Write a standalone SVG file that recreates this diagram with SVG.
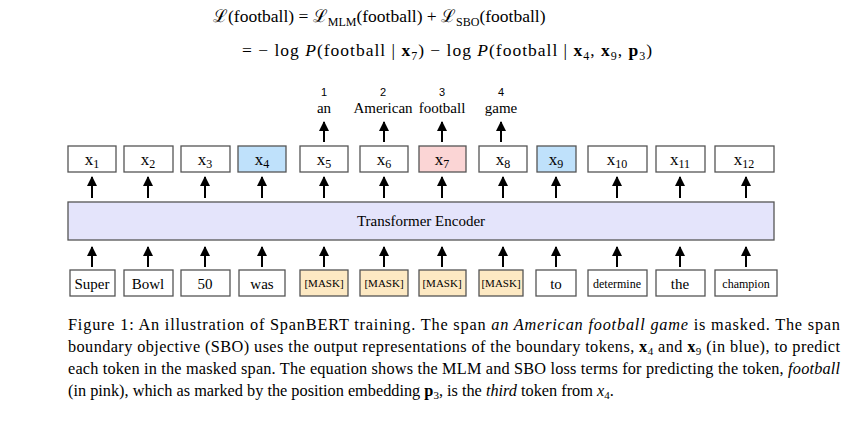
<svg xmlns="http://www.w3.org/2000/svg" width="860" height="428" viewBox="0 0 860 428">
<defs>
<marker id="ah" viewBox="0 0 10 10" refX="9" refY="5" markerWidth="5" markerHeight="5" orient="auto"><path d="M0,0 L10,5 L0,10 z" fill="#000"/></marker>
<style>
text{font-family:"Liberation Serif","DejaVu Serif",serif;fill:#000}
.tb{fill:#fff;stroke:#555;stroke-width:1.3}
.blue{fill:#bfe1fb}
.pink{fill:#fbd5d5}
.mask{fill:#fde9c3}
.t{font-size:15px;text-anchor:middle}
.n{font-size:11px;text-anchor:middle;font-family:"Liberation Sans",sans-serif}
.x{font-size:17px;text-anchor:middle}
.m{font-size:11px}
.a{stroke:#000;stroke-width:2;marker-end:url(#ah)}
.cap{font-size:16.3px}
.eq{font-size:17.5px}
</style>
</defs>
<rect width="860" height="428" fill="#fff"/>
<g id="equation">
<text class="eq" x="213" y="22">ℒ(football) = ℒ<tspan font-size="12" dy="4">MLM</tspan><tspan dy="-4">(football) + ℒ</tspan><tspan font-size="12" dy="4">SBO</tspan><tspan dy="-4">(football)</tspan></text>
<text class="eq" x="242" y="56" textLength="410" lengthAdjust="spacing">= − log <tspan font-style="italic">P</tspan>(football  |  <tspan font-weight="bold">x</tspan><tspan font-size="12" dy="4">7</tspan><tspan dy="-4">) − log </tspan><tspan font-style="italic">P</tspan>(football  |  <tspan font-weight="bold">x</tspan><tspan font-size="12" dy="4">4</tspan><tspan dy="-4">, </tspan><tspan font-weight="bold">x</tspan><tspan font-size="12" dy="4">9</tspan><tspan dy="-4">, </tspan><tspan font-weight="bold">p</tspan><tspan font-size="12" dy="4">3</tspan><tspan dy="-4">)</tspan></text>
</g>
<g id="predictions">
<text class="n" x="324" y="96">1</text>
<text class="n" x="383" y="96">2</text>
<text class="n" x="442" y="96">3</text>
<text class="n" x="501" y="96">4</text>
<text class="t" x="324" y="113">an</text>
<text class="t" x="383" y="113">American</text>
<text class="t" x="442" y="113">football</text>
<text class="t" x="501" y="113">game</text>
</g>
<g id="outputs">
<rect class="tb" x="68" y="146" width="48" height="26"/><text class="x" x="92" y="165">x<tspan font-size="12" dy="3">1</tspan></text>
<rect class="tb" x="124" y="146" width="49" height="26"/><text class="x" x="148" y="165">x<tspan font-size="12" dy="3">2</tspan></text>
<rect class="tb" x="181" y="146" width="49" height="26"/><text class="x" x="205" y="165">x<tspan font-size="12" dy="3">3</tspan></text>
<rect class="tb blue" x="238" y="146" width="48" height="26"/><text class="x" x="262" y="165">x<tspan font-size="12" dy="3">4</tspan></text>
<rect class="tb" x="300" y="146" width="48" height="26"/><text class="x" x="324" y="165">x<tspan font-size="12" dy="3">5</tspan></text>
<rect class="tb" x="360" y="146" width="48" height="26"/><text class="x" x="384" y="165">x<tspan font-size="12" dy="3">6</tspan></text>
<rect class="tb pink" x="419" y="146" width="47" height="26"/><text class="x" x="442" y="165">x<tspan font-size="12" dy="3">7</tspan></text>
<rect class="tb" x="479" y="146" width="48" height="26"/><text class="x" x="503" y="165">x<tspan font-size="12" dy="3">8</tspan></text>
<rect class="tb blue" x="537" y="146" width="39" height="26"/><text class="x" x="556" y="165">x<tspan font-size="12" dy="3">9</tspan></text>
<rect class="tb" x="588" y="146" width="59" height="26"/><text class="x" x="617" y="165">x<tspan font-size="12" dy="3">10</tspan></text>
<rect class="tb" x="656" y="146" width="49" height="26"/><text class="x" x="680" y="165">x<tspan font-size="12" dy="3">11</tspan></text>
<rect class="tb" x="715" y="146" width="59" height="26"/><text class="x" x="744" y="165">x<tspan font-size="12" dy="3">12</tspan></text>
</g>
<g id="encoder">
<rect x="68" y="202" width="706" height="38" fill="#e4e4fb" stroke="#555" stroke-width="1.3"/>
<text class="t" x="421" y="226">Transformer Encoder</text>
</g>
<g id="inputs">
<rect class="tb" x="70" y="270" width="45" height="26"/><text class="t" x="92" y="289">Super</text>
<rect class="tb" x="124" y="270" width="49" height="26"/><text class="t" x="148" y="289">Bowl</text>
<rect class="tb" x="181" y="270" width="49" height="26"/><text class="t" x="205" y="289">50</text>
<rect class="tb" x="239" y="270" width="46" height="26"/><text class="t" x="262" y="289">was</text>
<rect class="tb mask" x="300" y="270" width="48" height="26"/><text class="t m" x="324" y="287">[MASK]</text>
<rect class="tb mask" x="360" y="270" width="48" height="26"/><text class="t m" x="384" y="287">[MASK]</text>
<rect class="tb mask" x="419" y="270" width="47" height="26"/><text class="t m" x="442" y="287">[MASK]</text>
<rect class="tb mask" x="479" y="270" width="44" height="26"/><text class="t m" x="501" y="287">[MASK]</text>
<rect class="tb" x="536" y="270" width="40" height="26"/><text class="t" x="556" y="289">to</text>
<rect class="tb" x="588" y="270" width="59" height="26"/><text class="t" style="font-size:12px" x="617" y="288">determine</text>
<rect class="tb" x="656" y="270" width="49" height="26"/><text class="t" x="680" y="289">the</text>
<rect class="tb" x="715" y="270" width="62" height="26"/><text class="t" style="font-size:12px" x="746" y="288">champion</text>
</g>
<g id="connectors">
<line class="a" x1="92" y1="267" x2="92" y2="247"/><line class="a" x1="148" y1="267" x2="148" y2="247"/><line class="a" x1="205" y1="267" x2="205" y2="247"/><line class="a" x1="262" y1="267" x2="262" y2="247"/><line class="a" x1="324" y1="267" x2="324" y2="247"/><line class="a" x1="384" y1="267" x2="384" y2="247"/><line class="a" x1="442" y1="267" x2="442" y2="247"/><line class="a" x1="503" y1="267" x2="503" y2="247"/><line class="a" x1="556" y1="267" x2="556" y2="247"/><line class="a" x1="617" y1="267" x2="617" y2="247"/><line class="a" x1="680" y1="267" x2="680" y2="247"/><line class="a" x1="746" y1="267" x2="746" y2="247"/>
<line class="a" x1="92" y1="198" x2="92" y2="177"/><line class="a" x1="148" y1="198" x2="148" y2="177"/><line class="a" x1="205" y1="198" x2="205" y2="177"/><line class="a" x1="262" y1="198" x2="262" y2="177"/><line class="a" x1="324" y1="198" x2="324" y2="177"/><line class="a" x1="384" y1="198" x2="384" y2="177"/><line class="a" x1="442" y1="198" x2="442" y2="177"/><line class="a" x1="503" y1="198" x2="503" y2="177"/><line class="a" x1="556" y1="198" x2="556" y2="177"/><line class="a" x1="617" y1="198" x2="617" y2="177"/><line class="a" x1="680" y1="198" x2="680" y2="177"/><line class="a" x1="746" y1="198" x2="746" y2="177"/>
<line class="a" x1="324" y1="142" x2="324" y2="122"/><line class="a" x1="384" y1="142" x2="384" y2="122"/><line class="a" x1="442" y1="142" x2="442" y2="122"/><line class="a" x1="501" y1="142" x2="501" y2="122"/>
</g>
<g id="caption">
<text class="cap" x="68" y="330" textLength="772" lengthAdjust="spacing">Figure 1:  An illustration of SpanBERT training.  The span <tspan font-style="italic">an American football game</tspan> is masked.  The span</text>
<text class="cap" x="68" y="352" textLength="772" lengthAdjust="spacing">boundary objective (SBO) uses the output representations of the boundary tokens, <tspan font-weight="bold">x</tspan><tspan font-size="11" dy="3">4</tspan><tspan dy="-3"> and </tspan><tspan font-weight="bold">x</tspan><tspan font-size="11" dy="3">9</tspan><tspan dy="-3"> (in blue), to predict</tspan></text>
<text class="cap" x="68" y="374" textLength="772" lengthAdjust="spacing">each token in the masked span. The equation shows the MLM and SBO loss terms for predicting the token, <tspan font-style="italic">football</tspan></text>
<text class="cap" x="68" y="396">(in pink), which as marked by the position embedding <tspan font-weight="bold">p</tspan><tspan font-size="11" dy="3">3</tspan><tspan dy="-3">, is the </tspan><tspan font-style="italic">third</tspan> token from <tspan font-style="italic">x</tspan><tspan font-size="11" dy="3">4</tspan><tspan dy="-3">.</tspan></text>
</g>
</svg>
